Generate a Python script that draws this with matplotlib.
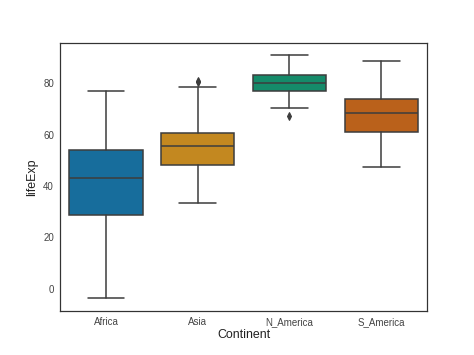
import numpy as np
import matplotlib
matplotlib.use("Agg")
import matplotlib.pyplot as plt
import seaborn as sns

# Box statistics (lifeExp by continent)
continents = ["Africa", "Asia", "N_America", "S_America"]
whisker_low = [-3.4, 33.5, 70.2, 47.5]
q1 = [28.7, 48.2, 76.9, 60.9]
median = [43.1, 55.5, 80.1, 68.2]
q3 = [54.0, 60.5, 83.1, 73.7]
whisker_high = [76.9, 78.4, 90.9, 88.7]
outliers = [[], [80.4, 80.9], [67.1], []]

sns.set_style("white")
plt.rcParams["font.family"] = ["Liberation Sans", "DejaVu Sans"]

palette = [sns.desaturate(c, 0.75) for c in sns.color_palette("colorblind")[:4]]
line_color = "#3d3d3d"

fig, ax = plt.subplots(figsize=(474 / 74, 355 / 74), dpi=74)

stats = []
for i, name in enumerate(continents):
    stats.append({
        "label": name,
        "whislo": whisker_low[i],
        "q1": q1[i],
        "med": median[i],
        "q3": q3[i],
        "whishi": whisker_high[i],
        "fliers": np.array(outliers[i]),
    })

lw = 1.5
bp = ax.bxp(stats, positions=range(len(continents)), widths=0.8,
            patch_artist=True,
            boxprops=dict(edgecolor=line_color, linewidth=lw),
            medianprops=dict(color=line_color, linewidth=lw),
            whiskerprops=dict(color=line_color, linewidth=lw),
            capprops=dict(color=line_color, linewidth=lw),
            flierprops=dict(marker="d", markerfacecolor=line_color,
                            markeredgecolor=line_color, markersize=5))
for patch, col in zip(bp["boxes"], palette):
    patch.set_facecolor(col)

ax.set_xlim(-0.5, 3.5)
ax.set_ylim(-8.6, 95.6)
ax.set_yticks([0, 20, 40, 60, 80])
ax.set_xticks(range(len(continents)))
ax.set_xticklabels(continents)
ax.tick_params(labelsize=9.5, length=0, pad=6, colors="#444444")
ax.set_xlabel("Continent", fontsize=12, color="#222222", labelpad=2)
ax.set_ylabel("lifeExp", fontsize=12, color="#222222", labelpad=5)
for sp in ax.spines.values():
    sp.set_color("#333333")
    sp.set_linewidth(1.2)

fig.subplots_adjust(left=0.127, right=0.901, top=0.879, bottom=0.124)
fig.savefig("out.png", dpi=74)
